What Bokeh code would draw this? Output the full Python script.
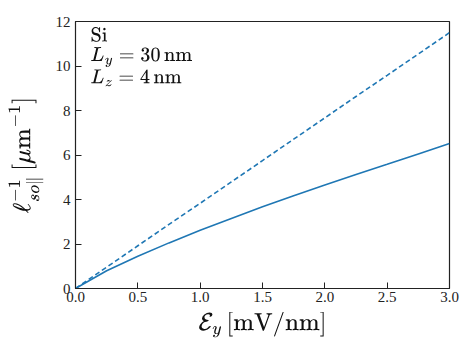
from bokeh.plotting import figure
from bokeh.models import Range1d, FixedTicker, Label, ColumnDataSource
from bokeh.embed import file_html
from bokeh.resources import INLINE

# data
field = [0.0, 0.25, 0.5, 0.75, 1.0, 1.25, 1.5, 1.75, 2.0, 2.25, 2.5, 2.75, 3.0]
inv_len_solid = [0.0, 0.80, 1.45, 2.05, 2.62, 3.15, 3.67, 4.17, 4.65, 5.12, 5.58, 6.05, 6.52]
inv_len_dashed = [0.0, 0.96, 1.92, 2.88, 3.83, 4.79, 5.75, 6.71, 7.67, 8.63, 9.58, 10.54, 11.5]
x_ticks = [0.0, 0.5, 1.0, 1.5, 2.0, 2.5, 3.0]
y_ticks = [0, 2, 4, 6, 8, 10, 12]
annot = [r"$$\mathrm{Si}$$", r"$$L_y = 30\,\mathrm{nm}$$", r"$$L_z = 4\,\mathrm{nm}$$"]

src = ColumnDataSource(dict(x=field, s=inv_len_solid, d=inv_len_dashed))

p = figure(width=474, height=355, output_backend="svg", toolbar_location=None,
           x_range=Range1d(0, 3), y_range=Range1d(0, 12),
           min_border_left=75, min_border_right=25, min_border_top=21, min_border_bottom=67)
p.background_fill_color = "white"
p.border_fill_color = "white"
p.xgrid.visible = False
p.ygrid.visible = False
p.outline_line_color = "#222222"
p.outline_line_width = 1.2

color = "#1f77b4"
p.line("x", "s", source=src, line_color=color, line_width=1.6)
p.line("x", "d", source=src, line_color=color, line_width=1.6, line_dash="5 3")

font = "Liberation Serif"
for ax, ticks in ((p.xaxis[0], x_ticks), (p.yaxis[0], y_ticks)):
    ax.ticker = FixedTicker(ticks=ticks)
    ax.major_tick_in = 6
    ax.major_tick_out = 0
    ax.minor_tick_line_color = None
    ax.axis_line_color = "#222222"
    ax.major_tick_line_color = "#222222"
    ax.major_label_text_font = font
    ax.major_label_text_font_size = "15px"
    ax.major_label_text_color = "#222222"
    ax.axis_label_text_font_style = "normal"
    ax.axis_label_text_color = "#111111"

p.xaxis[0].major_label_overrides = {t: f"{t:.1f}" for t in x_ticks}
p.xaxis[0].major_label_standoff = 3
p.yaxis[0].major_label_standoff = 5
p.xaxis.axis_label = r"$$\mathcal{E}_y\,[\mathrm{mV/nm}]$$"
p.yaxis.axis_label = r"$$\ell^{-1}_{so\parallel}\,[\mu\mathrm{m}^{-1}]$$"
p.xaxis.axis_label_text_font_size = "20.5px"
p.yaxis.axis_label_text_font_size = "20.5px"
p.xaxis.axis_label_standoff = 7
p.yaxis.axis_label_standoff = 9

ys = [11.3, 10.4, 9.4]
for t, yv in zip(annot, ys):
    p.add_layout(Label(x=0.12, y=yv, text=t, text_font=font, text_font_size="18px",
                       text_color="#111111", text_baseline="middle"))

open("out.html", "w").write(file_html(p, INLINE))
